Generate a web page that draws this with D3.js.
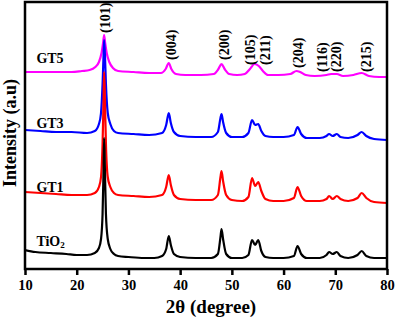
<!DOCTYPE html>
<html>
<head>
<meta charset="utf-8">
<script src="https://cdn.jsdelivr.net/npm/d3@7"></script>
<style>
  body { margin: 0; background: #fff; }
  svg text { font-family: "Liberation Serif", "Times New Roman", serif; font-weight: bold; }
</style>
</head>
<body>
<div id="container"></div>
<script>
// 2θ in degrees, intensity in a.u. (stacked)
const tio2 = [
  [10, 19], [12, 17], [15, 16], [18, 15], [20, 14], [22, 14], [23.5, 16], [24.3, 21], [24.7, 30],
  [25.0, 55], [25.2, 100], [25.3, 131], [25.45, 100], [25.65, 55], [26.0, 30], [26.5, 20], [27.2, 15],
  [28, 13], [30, 12], [33, 11], [35, 11], [36.5, 13], [37.3, 20], [37.8, 33], [38.2, 24], [38.8, 15],
  [40, 12], [43, 11], [46, 11], [47.3, 15], [47.8, 32], [48.0, 40], [48.3, 30], [48.9, 15], [50, 11],
  [52, 11], [53.2, 14], [53.9, 29], [54.5, 24], [55.1, 29], [55.7, 18], [56.5, 12], [58, 11], [60, 11],
  [62, 13], [62.7, 23], [63.4, 15], [64.5, 11], [67, 11], [68.3, 14], [68.8, 17], [69.5, 15], [70.3, 17],
  [71, 13], [72.5, 11], [74.3, 14], [75.1, 18], [76, 13], [77.5, 11], [80, 11]
]
const gt1 = [
  [10, 77], [13, 76], [16, 75], [19, 74], [22, 74], [23.5, 76], [24.3, 82], [24.7, 92], [25.0, 125],
  [25.2, 170], [25.3, 197], [25.45, 170], [25.65, 125], [26.0, 92], [26.5, 82], [27.2, 76], [28, 74],
  [31, 73], [34, 72], [36.5, 74], [37.3, 82], [37.8, 94], [38.2, 84], [38.8, 74], [40, 70], [43, 69],
  [46, 69], [47.3, 74], [47.8, 92], [48.0, 98], [48.3, 88], [48.9, 74], [50, 69], [52, 68], [53.2, 72],
  [53.9, 91], [54.5, 83], [55.1, 87], [55.7, 78], [56.5, 70], [58, 68], [60, 68], [62, 71], [62.7, 82],
  [63.4, 73], [64.5, 68], [67, 68], [68.3, 70], [68.8, 73], [69.5, 70], [70.3, 73], [71, 70], [72.5, 68],
  [74.3, 71], [75.1, 76], [76, 71], [77.5, 67], [80, 66]
]
const gt3 = [
  [10, 139], [13, 138], [16, 137], [19, 137], [22, 136], [23.5, 138], [24.3, 145], [24.7, 156],
  [25.0, 185], [25.2, 215], [25.3, 229], [25.45, 215], [25.65, 185], [26.0, 156], [26.5, 145],
  [27.2, 138], [28, 136], [31, 135], [34, 134], [36.5, 136], [37.3, 144], [37.8, 156], [38.2, 146],
  [38.8, 137], [40, 133], [43, 132], [46, 132], [47.3, 137], [47.8, 151], [48.0, 155], [48.3, 147],
  [48.9, 136], [50, 132], [52, 132], [53.2, 136], [53.9, 149], [54.5, 144], [55.1, 145], [55.7, 138],
  [56.5, 133], [58, 132], [60, 132], [62, 134], [62.7, 142], [63.4, 135], [64.5, 131], [67, 131],
  [68.3, 133], [68.8, 135], [69.5, 133], [70.3, 135], [71, 132], [72.5, 131], [74.3, 134], [75.1, 137],
  [76, 133], [77.5, 130], [80, 129]
]
const gt5 = [
  [10, 197], [13, 197], [16, 197], [19, 197], [21, 198], [22.5, 199], [23.6, 202], [24.3, 207],
  [24.8, 216], [25.1, 226], [25.3, 234], [25.5, 226], [25.8, 216], [26.3, 207], [27, 201], [28, 198],
  [31, 197], [34, 196], [36.3, 196], [37.2, 200], [37.8, 206], [38.3, 200], [39.2, 195], [41, 194],
  [44, 194], [46.5, 195], [47.4, 200], [48.0, 205], [48.6, 200], [49.5, 195], [51, 194], [52.5, 195],
  [53.5, 200], [54.4, 205], [55.2, 203], [56, 198], [57, 194], [59, 194], [61.3, 195], [62.5, 198],
  [63.2, 197], [64.3, 194], [66, 193], [68.3, 194], [69.2, 195], [70.3, 195], [71.5, 193], [73.5, 194],
  [75.1, 196], [76.5, 193], [78.5, 192], [80, 192]
]

const seriesNames = ["GT5", "GT3", "GT1", "TiO2"]
const seriesData = [gt5, gt3, gt1, tio2]
const seriesColors = ["#ff00ff", "#0000ff", "#ff0000", "#000000"]
// label anchor (2θ, intensity) for each curve name
const seriesLabelPos = [[12.2, 211], [12.2, 146], [12.2, 82], [12.2, 28]]

const peakLabels = ["(101)", "(004)", "(200)", "(105)", "(211)", "(204)", "(116)", "(220)", "(215)"]
const peakLabelX = [25.5, 38.4, 48.5, 53.7, 56.6, 62.8, 67.6, 70.3, 76.1]
const peakLabelY = [236, 209, 209, 204, 204, 201, 197, 197, 197]

const xTicks = [10, 20, 30, 40, 50, 60, 70, 80]

const margin = { top: 2, right: 8, bottom: 50, left: 25 }
const W = 395, H = 319
const width = W - margin.left - margin.right
const height = H - margin.top - margin.bottom

const svg = d3.select("#container")
  .append("svg")
  .attr("width", W)
  .attr("height", H)
  .append("g")
  .attr("transform", `translate(${margin.left}, ${margin.top})`)

const x = d3.scaleLinear().domain([10, 80]).range([0, width])
const y = d3.scaleLinear().domain([0, 267]).range([height, 0])

svg.append("defs").append("clipPath")
  .attr("id", "plot-clip")
  .append("rect")
  .attr("width", width)
  .attr("height", height)

/* CURVES */
const line = d3.line()
  .x(d => x(d[0]))
  .y(d => y(d[1]))
  .curve(d3.curveMonotoneX)

svg.append("g")
  .attr("clip-path", "url(#plot-clip)")
  .selectAll("path")
  .data(seriesData)
  .join("path")
  .attr("fill", "none")
  .attr("stroke", (d, i) => seriesColors[i])
  .attr("stroke-width", 2.2)
  .attr("stroke-linejoin", "round")
  .attr("d", line)

/* CURVE NAMES */
const names = svg.selectAll(".series-label")
  .data(seriesNames)
  .join("text")
  .attr("class", "series-label")
  .attr("x", (d, i) => x(seriesLabelPos[i][0]))
  .attr("y", (d, i) => y(seriesLabelPos[i][1]))
  .attr("dominant-baseline", "central")
  .style("font-size", "14px")
  .text(d => d === "TiO2" ? "TiO" : d)

names.filter(d => d === "TiO2")
  .append("tspan")
  .attr("dy", 4)
  .style("font-size", "9px")
  .text("2")

/* PEAK LABELS */
svg.selectAll(".peak-label")
  .data(peakLabels)
  .join("text")
  .attr("class", "peak-label")
  .attr("transform", (d, i) => `translate(${x(peakLabelX[i])}, ${y(peakLabelY[i])}) rotate(-90)`)
  .attr("dominant-baseline", "central")
  .style("font-size", "14px")
  .text(d => d)

/* X AXIS */
const xAxis = svg.append("g")
  .attr("transform", `translate(0, ${height})`)
  .call(d3.axisBottom(x)
    .tickValues(xTicks)
    .tickSize(6)
    .tickSizeOuter(0)
    .tickPadding(5))
xAxis.select(".domain").remove()
xAxis.selectAll(".tick line").attr("stroke", "#000").attr("stroke-width", 2.5)
xAxis.selectAll(".tick text")
  .style("font-family", "'Liberation Serif', 'Times New Roman', serif")
  .style("font-weight", "bold")
  .style("font-size", "14.5px")
  .attr("fill", "#000")

/* FRAME */
svg.append("rect")
  .attr("width", width)
  .attr("height", height)
  .attr("fill", "none")
  .attr("stroke", "#000")
  .attr("stroke-width", 2.5)

/* AXIS TITLES */
svg.append("text")
  .attr("x", width / 2 + 5)
  .attr("y", height + 44)
  .attr("text-anchor", "middle")
  .style("font-size", "19px")
  .text("2θ (degree)")

svg.append("text")
  .attr("transform", `translate(${-15}, ${131}) rotate(-90)`)
  .attr("text-anchor", "middle")
  .attr("dominant-baseline", "central")
  .style("font-size", "18px")
  .text("Intensity (a.u)")
</script>
</body>
</html>
